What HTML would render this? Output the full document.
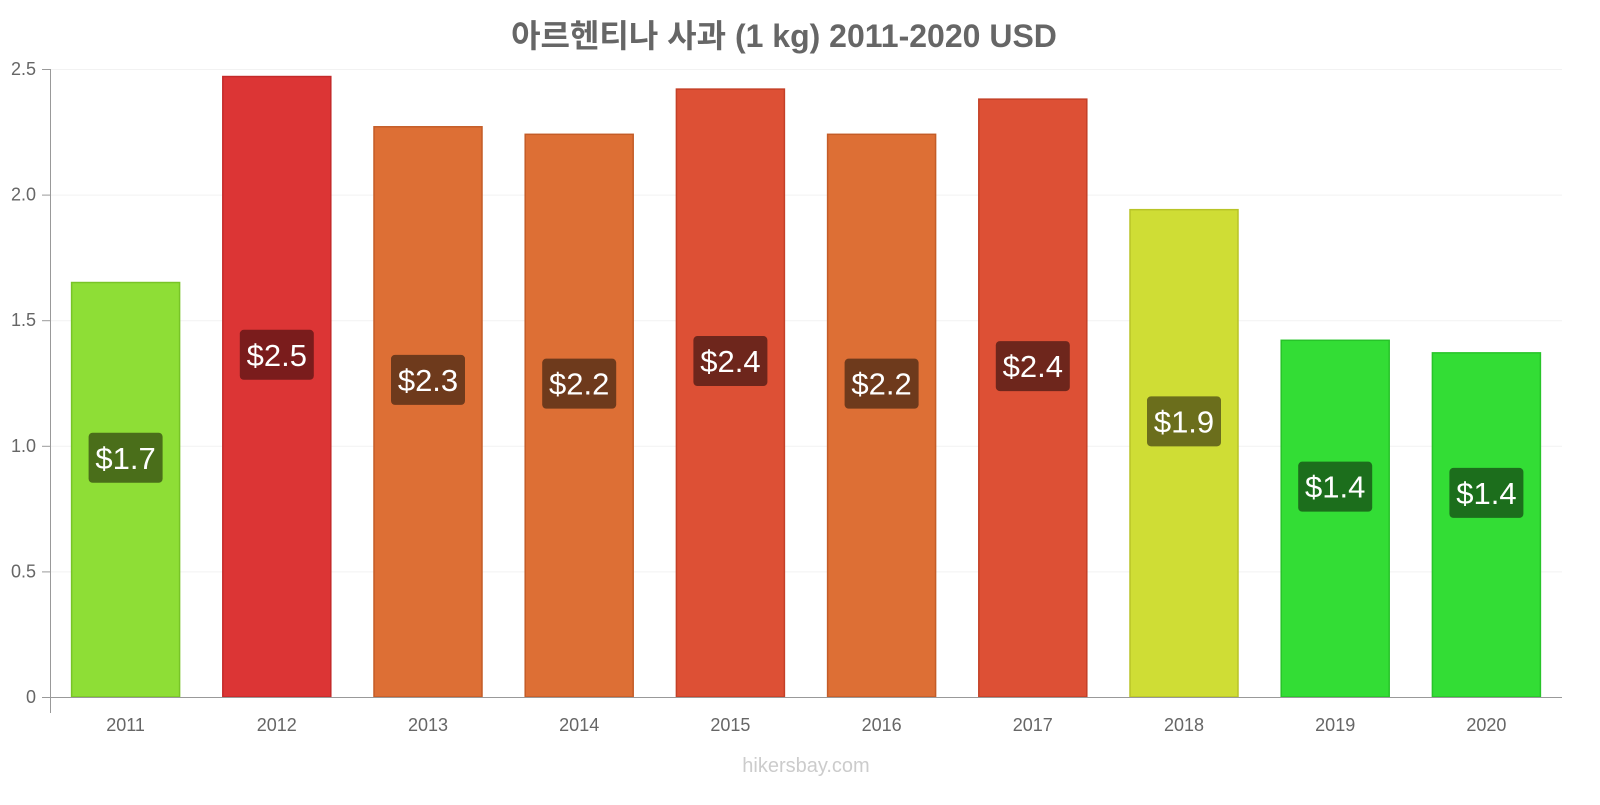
<!DOCTYPE html>
<html><head><meta charset="utf-8"><style>
body{margin:0;background:#fff;}
svg text{font-family:"Liberation Sans","Noto Sans CJK KR",sans-serif;}
</style></head><body>
<svg id="chart" width="1600" height="800" viewBox="0 0 1600 800" xmlns="http://www.w3.org/2000/svg">
<text x="784" y="47" text-anchor="middle" font-size="32" font-weight="bold" fill="#666">아르헨티나 사과 (1 kg) 2011-2020 USD</text>
<g id="grid"></g><g id="bars"></g>
<line x1="50.5" y1="69" x2="50.5" y2="713" stroke="#999" stroke-width="1"/>
<line x1="42" y1="697.5" x2="1562" y2="697.5" stroke="#999" stroke-width="1"/>
<text x="806" y="772" text-anchor="middle" font-size="20" fill="#ccc">hikersbay.com</text>
</svg>
<script>
const categories=["2011","2012","2013","2014","2015","2016","2017","2018","2019","2020"];
const values=[1.65,2.47,2.27,2.24,2.42,2.24,2.38,1.94,1.42,1.37];
const valueLabels=["$1.7","$2.5","$2.3","$2.2","$2.4","$2.2","$2.4","$1.9","$1.4","$1.4"];
const yTicks=[0,0.5,1,1.5,2,2.5];
const yTickLabels=["0","0.5","1.0","1.5","2.0","2.5"];
const NS="http://www.w3.org/2000/svg";
const x0=50,x1=1562,y0=697,yTop=69,yMax=2.5;
const slot=(x1-x0)/categories.length;
function y(v){return y0-(v/yMax)*(y0-yTop);}
function xc(i){return x0+slot*(i+0.5);}
function mk(t,a,p){const e=document.createElementNS(NS,t);for(const k in a)e.setAttribute(k,a[k]);p.appendChild(e);return e;}
function colors(v){
 if(v>=2.45)return["#dc3535","#c42a2a","#7a1c1c"];
 if(v>=2.3)return["#dd5035","#c44027","#6e261c"];
 if(v>=2.1)return["#dd6f35","#c45c27","#6e3a1c"];
 if(v>=1.8)return["#cfdd35","#b8c427","#6b6e1c"];
 if(v>=1.5)return["#8ede36","#78c427","#4a6e1a"];
 return["#33dd35","#27c429","#1c6e1c"];
}
const grid=document.getElementById('grid'),bars=document.getElementById('bars');
yTicks.forEach((t,i)=>{
 const gl=mk('line',{x1:x0,x2:x1,y1:y(t)+0.5,y2:y(t)+0.5,stroke:"#f2f2f2"},grid);
 
 
 const tk=mk('line',{x1:42,x2:50,y1:y(t)+0.5,y2:y(t)+0.5,stroke:"#999"},grid);
 
 
 const tl=mk('text',{x:36,y:y(t)+6,"text-anchor":"end","font-size":18,fill:"#666"},grid);
 tl.textContent=yTickLabels[i];
 
 
});
categories.forEach((c,i)=>{
 const v=values[i],[f,s,lb]=colors(v),cx=xc(i),w=108;
 const r=mk('rect',{x:cx-w/2,y:y(v),width:w,height:y0-y(v),fill:f,stroke:s,"stroke-width":1.5},bars);
 
 
 const ly=(y(v)+y0)/2-32;
 const lbx=mk('rect',{x:cx-37,y:ly-25,width:74,height:50,rx:4,fill:lb},bars);
 
 
 const lt=mk('text',{x:cx,y:ly+11,"text-anchor":"middle","font-size":31,fill:"#fff"},bars);
 lt.textContent=valueLabels[i];
 
 
 const xt=mk('text',{x:cx,y:731,"text-anchor":"middle","font-size":18,fill:"#666"},bars);
 xt.textContent=c;
 
 
});
</script>
</body></html>
